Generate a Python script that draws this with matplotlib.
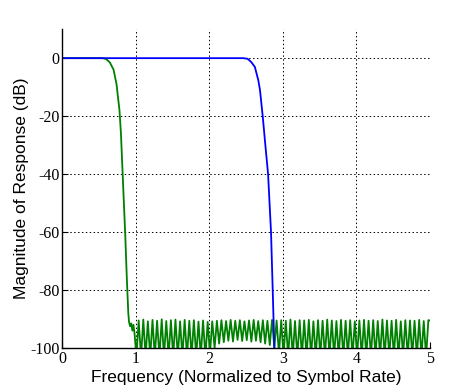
import matplotlib
matplotlib.use("Agg")
import matplotlib.pyplot as plt

# Blue (wide) filter response
blue_f = [0.0, 2.46, 2.52, 2.57, 2.62, 2.667, 2.69, 2.727, 2.763, 2.80, 2.84, 2.863, 2.885, 2.89]
blue_db = [0, 0, -0.2, -1.3, -3, -7.6, -11, -20, -30, -40, -60, -80, -100, -105]

# Green (narrow) filter response: passband + transition
green_f = [0.0, 0.55, 0.60, 0.65, 0.70, 0.74, 0.78, 0.80, 0.82, 0.84, 0.86, 0.88, 0.90,
           0.91, 0.925, 0.94, 0.955, 0.97, 0.985]
green_db = [0, 0, -0.3, -1.5, -4, -9, -18, -26, -38, -50, -62, -76, -88,
            -91, -92.5, -91.5, -94, -92, -95]

# Green stopband ripple
ripple_f = [1.010, 1.041, 1.073, 1.104, 1.135, 1.166, 1.198, 1.229,
            1.260, 1.291, 1.323, 1.354, 1.385, 1.416, 1.448, 1.479,
            1.510, 1.541, 1.573, 1.604, 1.635, 1.666, 1.698, 1.729,
            1.760, 1.791, 1.823, 1.854, 1.885, 1.916, 1.948, 1.979,
            2.010, 2.041, 2.073, 2.104, 2.135, 2.166, 2.198, 2.229,
            2.260, 2.291, 2.323, 2.354, 2.385, 2.416, 2.448, 2.479,
            2.510, 2.541, 2.573, 2.604, 2.635, 2.666, 2.698, 2.729,
            2.760, 2.791, 2.823, 2.854, 2.885, 2.916, 2.948, 2.979,
            3.010, 3.041, 3.073, 3.104, 3.135, 3.166, 3.198, 3.229,
            3.260, 3.291, 3.323, 3.354, 3.385, 3.416, 3.448, 3.479,
            3.510, 3.541, 3.573, 3.604, 3.635, 3.666, 3.698, 3.729,
            3.760, 3.791, 3.823, 3.854, 3.885, 3.916, 3.948, 3.979,
            4.010, 4.041, 4.073, 4.104, 4.135, 4.166, 4.198, 4.229,
            4.260, 4.291, 4.323, 4.354, 4.385, 4.416, 4.448, 4.479,
            4.510, 4.541, 4.573, 4.604, 4.635, 4.666, 4.698, 4.729,
            4.760, 4.791, 4.823, 4.854, 4.885, 4.916, 4.948, 4.979,
            5.000]
ripple_db = [-103, -90.5, -103, -90.2, -103, -90.8, -103, -90.3,
             -103, -90.6, -103, -90.1, -103, -90.7, -103, -90.4,
             -103, -90.2, -103, -90.8, -103, -90.3, -103, -90.6,
             -103, -90.4, -103, -90.9, -103, -90.5, -103, -91.0,
             -102, -90.8, -100, -90.6, -98.5, -90.4, -98, -90.7,
             -97.5, -90.3, -97.8, -90.6, -97.2, -90.4, -97.6, -90.8,
             -97.3, -90.5, -97.8, -90.3, -97.5, -90.7, -98, -90.4,
             -98.5, -90.6, -99, -90.3, -100, -90.5, -102, -90.4,
             -103, -90.6, -103, -90.2, -103, -90.7, -103, -90.4,
             -103, -90.5, -103, -90.3, -103, -90.8, -103, -90.4,
             -103, -90.6, -103, -90.2, -103, -90.5, -103, -90.7,
             -103, -90.3, -103, -90.6, -103, -90.4, -103, -90.8,
             -103, -90.5, -103, -90.3, -103, -90.6, -103, -90.4,
             -103, -90.7, -103, -90.2, -103, -90.5, -103, -90.6,
             -103, -90.3, -103, -90.8, -103, -90.4, -103, -90.5,
             -103, -90.6, -103, -90.3, -103, -90.7, -103, -90.4,
             -90.5]

x_ticks = [0, 1, 2, 3, 4, 5]
y_ticks = [-100, -80, -60, -40, -20, 0]

fig = plt.figure(figsize=(4.74, 3.89), dpi=100)
ax = fig.add_axes([0.131, 0.1054, 0.776, 0.8196])

ax.plot(green_f + ripple_f, green_db + ripple_db, color=(0, 0.5, 0), lw=1.3)
ax.plot(blue_f, blue_db, color=(0, 0, 1), lw=1.3)

ax.set_xlim(0, 5)
ax.set_ylim(-100, 10)
ax.set_xticks(x_ticks)
ax.set_yticks(y_ticks)
ax.set_xticklabels([str(v) for v in x_ticks])
ax.set_yticklabels([str(v) for v in y_ticks])

ax.grid(True, color='black', linestyle=(0, (1.5, 2.5)), linewidth=0.7)
for s in ['top', 'right']:
    ax.spines[s].set_visible(False)
for s in ['left', 'bottom']:
    ax.spines[s].set_linewidth(1.0)

ax.tick_params(direction='in', length=4, width=0.8, pad=2)
for lab in ax.get_xticklabels() + ax.get_yticklabels():
    lab.set_fontfamily('Liberation Serif')
    lab.set_fontsize(11.5)

ax.set_xlabel('Frequency (Normalized to Symbol Rate)', family='Liberation Sans',
              fontsize=12.5, labelpad=2)
ax.set_ylabel('Magnitude of Response (dB)', family='Liberation Sans',
              fontsize=12.5, labelpad=1)

fig.savefig('out.png', dpi=100)
